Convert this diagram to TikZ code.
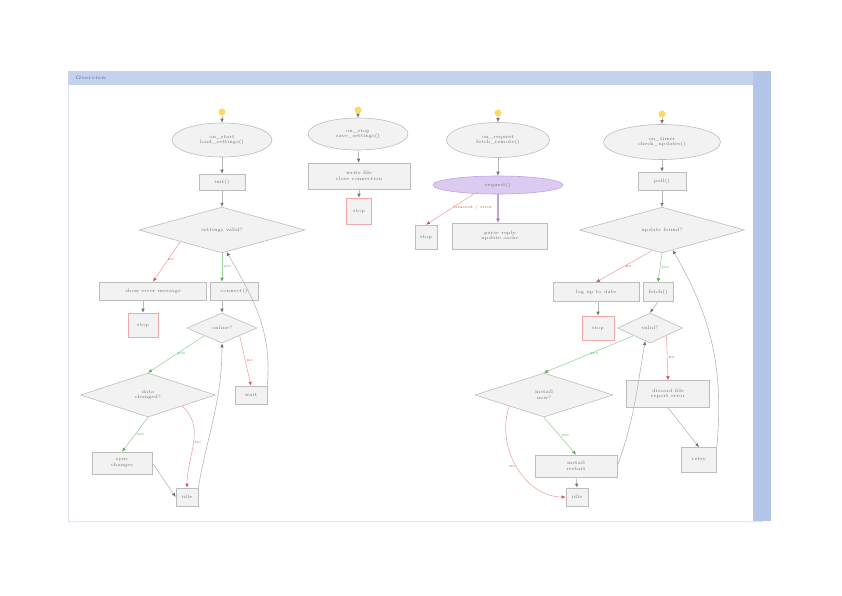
\documentclass[tikz,border=0pt]{standalone}
\usetikzlibrary{shapes.geometric,arrows.meta}

\definecolor{nodefill}{HTML}{F2F2F2}
\definecolor{nodeline}{HTML}{BDBDBD}
\definecolor{nodetext}{HTML}{707070}
\definecolor{bandblue}{HTML}{C5D2EE}
\definecolor{sideblue}{HTML}{B3C5E8}
\definecolor{yesgreen}{HTML}{9ED49E}
\definecolor{yeshead}{HTML}{5DAA5D}
\definecolor{nored}{HTML}{F0A8A8}
\definecolor{nohead}{HTML}{D9545C}
\definecolor{lilac}{HTML}{DCCBF0}
\definecolor{lilacline}{HTML}{BFA3E2}
\definecolor{startyel}{HTML}{FFD966}

\tikzset{
  base/.style={draw=nodeline, fill=nodefill, text=nodetext, inner sep=1pt, line width=0.6pt,
    align=center, font=\fontsize{4.8}{5.4}\selectfont},
  act/.style={base, rectangle},
  cond/.style={base, diamond, inner sep=0pt},
  ev/.style={base, ellipse},
  stopbox/.style={base, draw=nored},
  startdot/.style={circle, fill=startyel, draw=none, minimum size=7pt, inner sep=0pt},
  flow/.style={draw=black!28, line width=0.6pt, -{Latex[length=4pt,width=3.5pt,color=black!55]}},
  yes/.style={draw=yesgreen, line width=0.6pt, -{Latex[length=4pt,width=3.5pt,color=yeshead]}},
  no/.style={draw=nored, line width=0.6pt, -{Latex[length=4pt,width=3.5pt,color=nohead]}},
  lbl/.style={font=\fontsize{4.2}{4.6}\selectfont, inner sep=1pt}
}

\begin{document}
\begin{tikzpicture}[x=1pt,y=-1pt]
    \useasboundingbox (0,0) rectangle (842,595);

    % frame
    \draw[draw=bandblue!60, fill=white] (68,71) rectangle (762,521);
    \fill[bandblue] (68,71) rectangle (771,85);
    \fill[sideblue] (753,71) rectangle (771,521);
    \node[anchor=west, font=\fontsize{5}{6}\selectfont\bfseries, text=black!55!blue!50] (title) at (72,78) {Overview};

    % first flow
    \node[startdot] (s1) at (222,112) {};
    \node[ev, minimum width=100pt, minimum height=34pt] (e1) at (222,140) {on\_start\\ load\_settings()};
    \node[act, minimum width=46pt, minimum height=16pt] (a1) at (222,182) {init()};
    \node[cond, minimum width=166pt, minimum height=44pt] (c1) at (222,230) {settings valid?};
    \node[act, minimum width=107pt, minimum height=18pt] (a2) at (153,291) {show error message};
    \node[act, minimum width=48pt, minimum height=18pt] (a3) at (234,291) {connect()};
    \node[stopbox, minimum width=30pt, minimum height=24pt] (x1) at (143,325) {stop};
    \node[cond, minimum width=70pt, minimum height=30pt] (c2) at (222,328) {online?};
    \node[cond, minimum width=135pt, minimum height=44pt] (c3) at (148,395) {data\\ changed?};
    \node[act, minimum width=32pt, minimum height=18pt] (a4) at (251,395) {wait};
    \node[act, minimum width=60pt, minimum height=22pt] (a5) at (122,463) {sync\\ changes};
    \node[act, minimum width=22pt, minimum height=18pt] (a6) at (187,497) {idle};

    \draw[flow] (s1) -- (e1);
    \draw[flow] (e1) -- (a1);
    \draw[flow] (a1) -- (c1);
    \draw[no] (c1.south west) -- node[lbl, text=nohead, above right] {no} (a2.north);
    \draw[yes] (c1.south) -- node[lbl, text=yeshead, right] {yes} (c1.south |- a3.north);
    \draw[flow] (c2.north |- a3.south) -- (c2.north);
    \draw[flow] (x1.north |- a2.south) -- (x1.north);
    \draw[yes] (c2.south west) -- node[lbl, text=yeshead, right] {yes} (c3.north);
    \draw[no] (c2.south east) -- node[lbl, text=nohead, right] {no} (a4.north);
    \draw[yes] (c3.south) -- node[lbl, text=yeshead, right] {yes} (a5.north);
    \draw[no] (c3.south east) to[out=-40,in=90] node[lbl, text=nohead, right] {no} (a6.north);
    \draw[flow] (a5.east) -- (a6.west);
    \draw[flow] (a4.north east) to[out=85,in=-60] (c1.-78);
    \draw[flow] (a6.north east) to[out=80,in=-90] (c2.south);

    % second flow
    \node[startdot] (s2) at (358,110) {};
    \node[ev, minimum width=100pt, minimum height=32pt] (e2) at (358,134) {on\_stop\\ save\_settings()};
    \node[act, minimum width=102pt, minimum height=26pt] (a7) at (359,176) {write file\\ close connection};
    \node[stopbox, minimum width=25pt, minimum height=26pt] (x2) at (359,211) {stop};

    \draw[flow] (s2) -- (e2);
    \draw[flow] (e2) -- (a7);
    \draw[flow] (a7) -- (x2);

    % third flow
    \node[startdot] (s3) at (498,113) {};
    \node[ev, minimum width=103pt, minimum height=35pt] (e3) at (498,140) {on\_request\\ fetch\_remote()};
    \node[base, ellipse, fill=lilac, draw=lilacline, minimum width=130pt, minimum height=18pt] (p1) at (498,185) {request()};
    \node[act, minimum width=95pt, minimum height=26pt] (a8) at (500,236) {parse reply\\ update cache};
    \node[stopbox, minimum width=22pt, minimum height=24pt] (x3) at (426,237) {stop};

    \draw[flow] (s3) -- (e3);
    \draw[flow] (e3) -- (p1);
    \draw[draw=lilacline, line width=1.5pt, -{Latex[length=4pt,width=4pt,color=lilacline!80!black]}] (p1) -- (p1.south |- a8.north);
    \draw[no] (p1.200) -- node[lbl, text=nohead, right, pos=0.45] {timeout / error} (x3.north);

    % fourth flow
    \node[startdot] (s4) at (662,114) {};
    \node[ev, minimum width=117pt, minimum height=35pt] (e4) at (662,142) {on\_timer\\ check\_updates()};
    \node[act, minimum width=48pt, minimum height=18pt] (a9) at (662,181) {poll()};
    \node[cond, minimum width=165pt, minimum height=44pt] (c4) at (662,230) {update found?};
    \node[act, minimum width=86pt, minimum height=19pt] (a10) at (596,292) {log up to date};
    \node[act, minimum width=30pt, minimum height=19pt] (a11) at (658,292) {fetch()};
    \node[stopbox, minimum width=32pt, minimum height=24pt] (x4) at (598,328) {stop};
    \node[cond, minimum width=65pt, minimum height=30pt] (c5) at (650,328) {valid?};
    \node[cond, minimum width=138pt, minimum height=44pt] (c6) at (544,395) {install\\ now?};
    \node[act, minimum width=83pt, minimum height=27pt] (a12) at (668,394) {discard file\\ report error};
    \node[act, minimum width=82pt, minimum height=22pt] (a13) at (576,466) {install\\ restart};
    \node[act, minimum width=22pt, minimum height=18pt] (a14) at (577,497) {idle};
    \node[act, minimum width=35pt, minimum height=25pt] (a15) at (699,460) {retry};

    \draw[flow] (s4) -- (e4);
    \draw[flow] (e4) -- (a9);
    \draw[flow] (a9) -- (c4);
    \draw[no] (c4.-115) -- node[lbl, text=nohead, right] {no} (a10.north);
    \draw[yes] (c4.south) -- node[lbl, text=yeshead, right] {yes} (a11.north);
    \draw[flow] (x4.north |- a10.south) -- (x4.north);
    \draw[flow] (a11.south) -- (c5.north);
    \draw[yes] (c5.south west) -- node[lbl, text=yeshead, right] {yes} (c6.north);
    \draw[no] (c5.south east) -- node[lbl, text=nohead, right] {no} (a12.north);
    \draw[yes] (c6.south) -- node[lbl, text=yeshead, right] {yes} (a13.north);
    \draw[no] (c6.south west) to[out=-110,in=180] node[lbl, text=nohead, left] {no} (a14.west);
    \draw[flow] (a13.south) -- (a14.north);
    \draw[flow] (a13.east) to[out=70,in=-100] (c5.250);
    \draw[flow] (a12.south) -- (a15.north);
    \draw[flow] (a15.north east) to[out=85,in=-60] (c4.-62);
\end{tikzpicture}
\end{document}
